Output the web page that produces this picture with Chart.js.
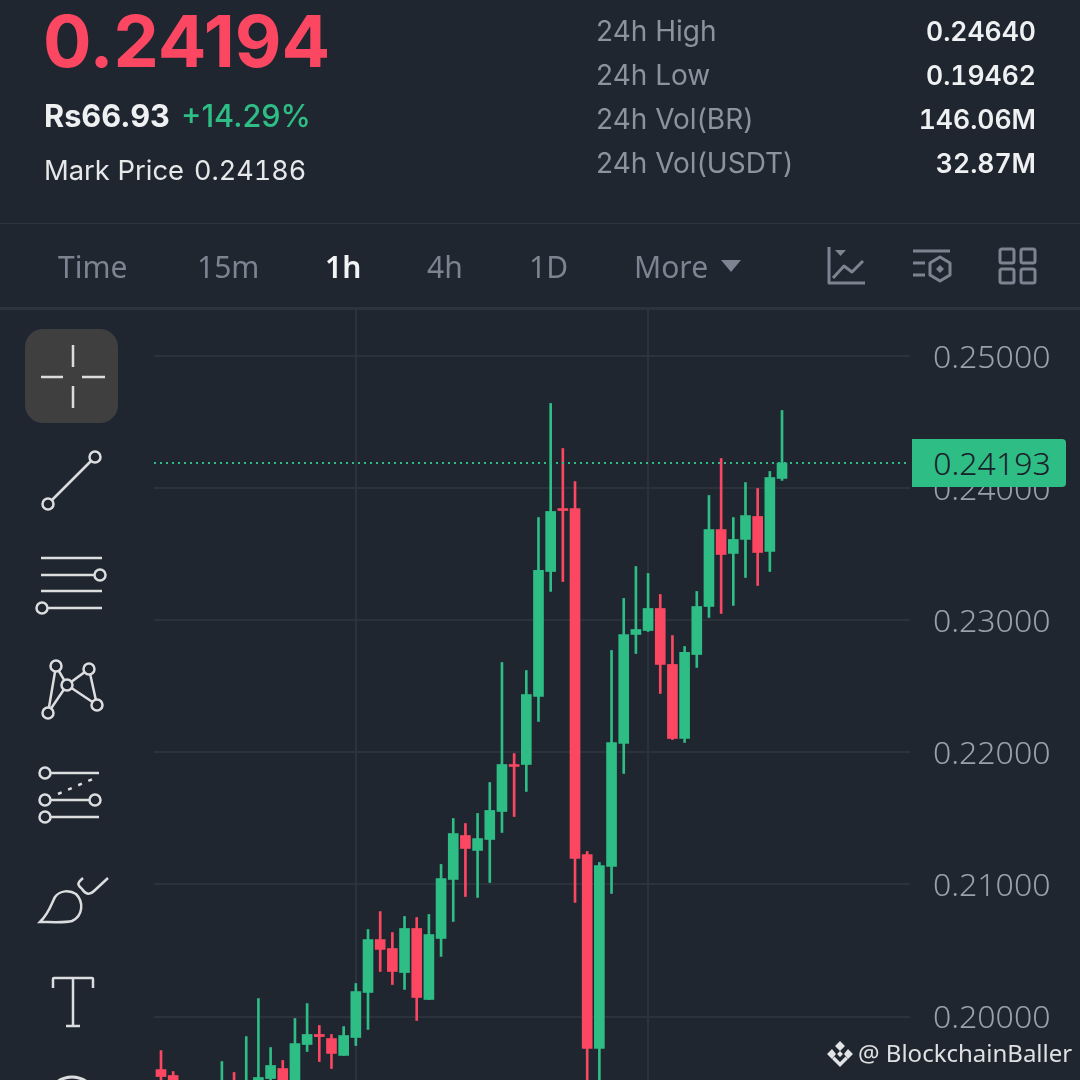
<!DOCTYPE html>
<html>
<head>
<meta charset="utf-8">
<title>BR/USDT 1h</title>
<script src="https://cdn.jsdelivr.net/npm/chart.js@4"></script>
<style>
html, body { margin: 0; padding: 0; background: #1f2630; }
#page { position: relative; width: 1080px; height: 1080px; overflow: hidden; background: #1f2630; font-family: Inter, sans-serif; }
#page div.t { position: absolute; white-space: nowrap; line-height: 1; }
#chart { position: absolute; left: 0; top: 0; }
.lbl { color: #8b939f; font-size: 28px; left: 596px; }
.val { color: #eff0f2; font-size: 26.500px; font-weight: 600; right: 44px; font-variant-numeric: tabular-nums; }
.tab { color: #7b8490; font-size: 30px; top: 252px; font-family: 'Noto Sans', sans-serif; }
.rule { position: absolute; left: 0; width: 1080px; background: #2c333d; }
svg { position: absolute; left: 0; top: 0; }
</style>
</head>
<body>
<div id="page">
  <canvas id="chart" width="1080" height="1080"></canvas>

  <div class="t" id="lastPrice" style="left:43px;top:5px;color:#fb4761;font-size:72px;font-weight:700">0.24194</div>
  <div class="t" style="left:44px;top:101px;color:#eff0f2;font-size:30.700px;font-weight:700">Rs66.93</div>
  <div class="t" style="left:181px;top:101px;color:#2ebd85;font-size:30.600px;font-weight:500">+14.29%</div>
  <div class="t" style="left:44px;top:157px;color:#e6e8ea;font-size:27.400px">Mark Price</div>
  <div class="t" style="left:194px;top:157px;color:#e6e8ea;font-size:27px;font-variant-numeric:tabular-nums">0.24186</div>

  <div class="t lbl" style="top:17px">24h High</div>
  <div class="t lbl" style="top:61px">24h Low</div>
  <div class="t lbl" style="top:105px">24h Vol(BR)</div>
  <div class="t lbl" style="top:149px">24h Vol(USDT)</div>
  <div class="t val" style="top:18px">0.24640</div>
  <div class="t val" style="top:62px">0.19462</div>
  <div class="t val" style="top:106px">146.06M</div>
  <div class="t val" style="top:150px">32.87M</div>

  <div class="rule" style="top:223px;height:1px"></div>
  <div class="rule" style="top:307px;height:3px"></div>

  <div class="t tab" style="left:58px">Time</div>
  <div class="t tab" style="left:197px">15m</div>
  <div class="t tab" style="left:325px;color:#f2f3f5;font-weight:600">1h</div>
  <div class="t tab" style="left:427px">4h</div>
  <div class="t tab" style="left:529px">1D</div>
  <div class="t tab" style="left:634px">More</div>

  <!-- toolbar and header icons -->
  <svg width="1080" height="1080" fill="none" stroke-linecap="butt">
    <path d="M721 260h20l-10 12z" fill="#7b8490"/>
    <g stroke="#7b8490" stroke-width="3" stroke-linejoin="round">
      <path d="M829 247V283H865"/>
      <path d="M833 278L844 266L852 272L863 261"/>
      <path d="M835 250h11l-5.500 6z" fill="#7b8490" stroke="none"/>
      <path d="M913 251H950M913 263H925M913 275H925"/>
      <path d="M940 257L950 263V275L940 281L930 275V263Z"/>
      <path d="M940 265l4 4l-4 4l-4-4z" fill="#7b8490" stroke="none"/>
      <rect x="1000" y="249" width="14" height="14" rx="2"/>
      <rect x="1021" y="249" width="14" height="14" rx="2"/>
      <rect x="1000" y="269" width="14" height="14" rx="2"/>
      <rect x="1021" y="269" width="14" height="14" rx="2"/>
    </g>
    <rect x="25" y="329" width="93" height="94" rx="18" fill="#3f3f40"/>
    <g stroke="#dcdddf" stroke-width="2.5">
      <path d="M73 345V367M73 386V408M41 377H63M82 377H105"/>
      <circle cx="48" cy="504" r="5.500"/><circle cx="95" cy="457" r="5.500"/>
      <path d="M52 500L91 461"/>
      <path d="M41 558H102M41 575H95M41 591H102M47 608H102"/>
      <circle cx="100" cy="575" r="5.500"/><circle cx="42" cy="608" r="5.500"/>
      <path d="M48 713L56 666L67 685L48 713M67 685L89 669L97 705L67 685"/>
      <circle cx="56" cy="666" r="5.500" fill="#1f2630"/><circle cx="89" cy="669" r="5.500" fill="#1f2630"/>
      <circle cx="67" cy="685" r="5.500" fill="#1f2630"/><circle cx="48" cy="713" r="5.500" fill="#1f2630"/>
      <circle cx="97" cy="705" r="5.500" fill="#1f2630"/>
      <path d="M51 773H99M51 800H89M51 817H99"/>
      <path d="M58 794L95 778" stroke-dasharray="4 7"/>
      <circle cx="45" cy="773" r="5.500"/><circle cx="45" cy="800" r="5.500"/><circle cx="95" cy="800" r="5.500"/><circle cx="45" cy="817" r="5.500"/>
      <path d="M40 922C50 912 52 902 55 897C60 890 70 890 76 894C84 902 83 916 72 921C66 923 50 922 40 922Z"/>
      <path d="M83 878C76 884 78 885 82 889C86 895 90 895 94 891L108 878"/>
      <path d="M53 988V979Q53 978 54 978H92Q93 978 93 979V988M73 978V1026M66 1026H80"/>
      <circle cx="72" cy="1102" r="25" stroke-width="3"/>
    </g>
    <!-- watermark logo -->
    <g fill="#e2e3e5">
      <path d="M840 1041l5 5l-5 5l-5-5zM832 1049l4 5l-4 5l-5-5zM848 1049l5 5l-5 5l-4-5zM840 1051l3 3l-3 3l-3-3z"/>
      <path d="M840 1067l-8-8l2.500-2.500l5.500 5.500l5.500-5.500l2.500 2.500z"/>
    </g>
  </svg>
  <div class="t" style="left:858px;top:1041px;color:#dfe0e2;font-size:24px;font-family:'Noto Sans',sans-serif">@ BlockchainBaller</div>

  <div id="priceTag" style="position:absolute;left:912px;top:439px;width:154px;height:48px;border-radius:0 4px 4px 0;background:#2ebd85;color:#1b2129;font-family:'Noto Sans',sans-serif;font-weight:300;font-size:32px;line-height:48px;text-align:center;text-indent:6px">0.24193</div>
</div>

<script>
// candle values. null = candle is below the visible area
const opens = [0.19598, 0.19553, null, null, null, 0.19371, 0.19485, 0.19409, 0.19447, 0.19530, 0.19606, 0.19485, 0.19788, 0.19864, 0.19833, 0.19705, 0.19841, 0.20182, 0.20583, 0.20515, 0.20333, 0.20667, 0.20129, 0.20591, 0.21038, 0.21371, 0.21258, 0.21341, 0.21553, 0.21909, 0.21909, 0.22424, 0.23371, 0.23848, 0.23848, 0.21227, 0.19758, 0.21136, 0.22068, 0.22894, 0.22924, 0.23091, 0.22667, 0.22106, 0.22742, 0.23106, 0.23689, 0.23508, 0.23614, 0.23788, 0.23523, 0.24076];
const closes = [0.19545, 0.19477, null, null, null, 0.19447, 0.19409, 0.19485, 0.19538, 0.19629, 0.19485, 0.19795, 0.19864, 0.19848, 0.19720, 0.19856, 0.20189, 0.20583, 0.20508, 0.20341, 0.20667, 0.20144, 0.20621, 0.21045, 0.21386, 0.21273, 0.21348, 0.21561, 0.21909, 0.21894, 0.22439, 0.23379, 0.23826, 0.23833, 0.21197, 0.19758, 0.21144, 0.22076, 0.22894, 0.22932, 0.23091, 0.22667, 0.22106, 0.22758, 0.23106, 0.23689, 0.23500, 0.23614, 0.23795, 0.23515, 0.24083, 0.24193];
const highs = [0.19742, 0.19583, null, null, null, 0.19659, 0.19576, 0.19848, 0.20136, 0.19765, 0.19667, 0.19985, 0.20098, 0.19932, 0.19864, 0.19924, 0.20250, 0.20659, 0.20795, 0.20636, 0.20758, 0.20750, 0.20773, 0.21152, 0.21500, 0.21462, 0.21538, 0.21773, 0.22682, 0.21992, 0.22621, 0.23780, 0.24644, 0.24303, 0.24053, 0.21250, 0.21167, 0.22773, 0.23167, 0.23409, 0.23356, 0.23197, 0.22886, 0.22803, 0.23220, 0.23947, 0.24227, 0.23780, 0.24045, 0.24000, 0.24129, 0.24591];
const lows = [0.19492, 0.19432, null, null, null, 0.19333, 0.19371, 0.19371, 0.19409, 0.19447, 0.19447, 0.19409, 0.19735, 0.19659, 0.19606, 0.19705, 0.19780, 0.19902, 0.20341, 0.20242, 0.20205, 0.19970, 0.20129, 0.20455, 0.20720, 0.20909, 0.20902, 0.21015, 0.21394, 0.21515, 0.21705, 0.22235, 0.23220, 0.23295, 0.20864, 0.19462, 0.19480, 0.20932, 0.21841, 0.22750, 0.22917, 0.22447, 0.22098, 0.22076, 0.22644, 0.23023, 0.23053, 0.23114, 0.23326, 0.23265, 0.23371, 0.24061];
const priceTicks = [0.25, 0.24, 0.23, 0.22, 0.21, 0.20];
const timeTicks = [16, 40]; // the two vertical grid lines
const lastPrice = 0.24193;

const green = '#2ebd85';
const red = '#fb4761';
const gridColor = '#2b323c';

// visible window of the axes
const xMin = -0.575, xMax = 61.51;
const yMin = 0.19519, yMax = 0.25352;

const idx = opens.map((v, i) => i).filter(i => opens[i] !== null);
const candleColors = idx.map(i => closes[i] >= opens[i] ? green : red);

new Chart(document.getElementById('chart'), {
    type: 'bar',
    data: {
        datasets: [
            {
                // last price dotted line
                type: 'line',
                data: [{ x: xMin, y: lastPrice }, { x: xMax, y: lastPrice }],
                borderColor: green,
                borderWidth: 2,
                borderDash: [2, 4],
                pointRadius: 0,
                order: 1
            },
            {
                // candle bodies
                data: idx.map(i => ({ x: i, y: [opens[i], closes[i]] })),
                backgroundColor: candleColors,
                barThickness: 10,
                grouped: false,
                order: 2
            },
            {
                // wicks
                data: idx.map(i => ({ x: i, y: [lows[i], highs[i]] })),
                backgroundColor: candleColors,
                barThickness: 2,
                grouped: false,
                order: 3
            }
        ]
    },
    options: {
        responsive: false,
        animation: false,
        devicePixelRatio: 1,
        layout: { autoPadding: false, padding: { left: 154, top: 310, right: 0, bottom: 0 } },
        plugins: { legend: { display: false }, tooltip: { enabled: false } },
        scales: {
            x: {
                type: 'linear',
                min: xMin,
                max: xMax,
                offset: false,
                afterBuildTicks: scale => { scale.ticks = timeTicks.map(v => ({ value: v })); },
                afterFit: scale => { scale.height = 0; },
                ticks: { display: false },
                border: { display: false },
                grid: { color: gridColor, lineWidth: 2, offset: false, drawTicks: false }
            },
            y: {
                position: 'right',
                min: yMin,
                max: yMax,
                afterBuildTicks: scale => { scale.ticks = priceTicks.map(v => ({ value: v })); },
                // tick padding and half a label would otherwise eat into the plot bottom
                afterFit: scale => { scale.width = 170; scale.paddingTop = 0; scale.paddingBottom = 0; },
                ticks: {
                    color: '#9aa0a8',
                    padding: 23,
                    labelOffset: 2.5,
                    font: { family: 'Noto Sans', size: 32, weight: '300' },
                    callback: v => v.toFixed(5)
                },
                border: { display: false },
                grid: { color: gridColor, lineWidth: 2, drawTicks: false }
            }
        }
    }
});
</script>
</body>
</html>
